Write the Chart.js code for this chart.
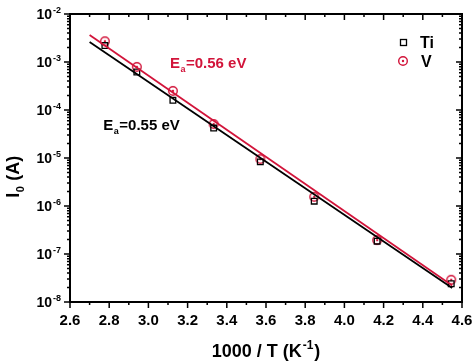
<!DOCTYPE html>
<html>
<head>
<meta charset="utf-8">
<script src="https://cdn.jsdelivr.net/npm/chart.js@4.4.0/dist/chart.umd.min.js"></script>
<style>
  html, body { margin: 0; padding: 0; background: #fff; }
</style>
</head>
<body>
<canvas id="c" width="474" height="362"></canvas>
<script>
// 1000/T values and measured I0 (A)
const invT = [2.778, 2.941, 3.125, 3.333, 3.571, 3.846, 4.167, 4.545];
const tiI0 = [2.2e-3, 6.2e-4, 1.6e-4, 4.2e-5, 8.3e-6, 1.26e-6, 1.85e-7, 2.4e-8];
const vI0  = [2.7e-3, 7.9e-4, 2.5e-4, 5.1e-5, 9.5e-6, 1.55e-6, 1.95e-7, 2.9e-8];

// Arrhenius fit lines
const fitX  = [2.70, 4.55];
const tiFit = [2.6e-3, 1.95e-8];
const vFit  = [3.65e-3, 2.2e-8];

const xTicks = [2.6, 2.8, 3.0, 3.2, 3.4, 3.6, 3.8, 4.0, 4.2, 4.4, 4.6];
const yExps  = [-2, -3, -4, -5, -6, -7, -8];

const RED = '#d2143a';
const FONT = '"Liberation Sans", Arial, sans-serif';

function pts(xs, ys) {
    return xs.map((x, i) => ({ x: x, y: ys[i] }));
}

// circle with a dot in the middle, for V
const circ = document.createElement('canvas');
circ.width = 12; circ.height = 12;
(function () {
    const g = circ.getContext('2d');
    g.strokeStyle = RED;
    g.lineWidth = 1.4;
    g.beginPath(); g.arc(6, 6, 4.3, 0, Math.PI * 2); g.stroke();
    g.fillStyle = RED;
    g.beginPath(); g.arc(6, 6, 1.2, 0, Math.PI * 2); g.fill();
})();

function textSup(ctx, base, sup, x, y, size, align) {
    ctx.font = 'bold ' + size + 'px ' + FONT;
    const wb = ctx.measureText(base).width;
    ctx.font = 'bold ' + Math.round(size * 0.65) + 'px ' + FONT;
    const ws = ctx.measureText(sup).width;
    let x0 = x;
    if (align === 'right') x0 = x - wb - ws - 1;
    ctx.textAlign = 'left';
    ctx.font = 'bold ' + size + 'px ' + FONT;
    ctx.fillText(base, x0, y);
    ctx.font = 'bold ' + Math.round(size * 0.65) + 'px ' + FONT;
    ctx.fillText(sup, x0 + wb + 1, y - size * 0.42);
}

function textSub(ctx, a, sub, b, x, y, size) {
    ctx.textAlign = 'left';
    ctx.font = 'bold ' + size + 'px ' + FONT;
    ctx.fillText(a, x, y);
    const wa = ctx.measureText(a).width;
    ctx.font = 'bold ' + Math.round(size * 0.6) + 'px ' + FONT;
    ctx.fillText(sub, x + wa + 0.5, y + size * 0.25);
    const ws = ctx.measureText(sub).width;
    ctx.font = 'bold ' + size + 'px ' + FONT;
    ctx.fillText(b, x + wa + ws + 1, y);
}

function xTitle(ctx) {
    const size = 18;
    ctx.font = 'bold ' + size + 'px ' + FONT;
    const w1 = ctx.measureText('1000 / T (K').width;
    ctx.font = 'bold 12px ' + FONT;
    const w2 = ctx.measureText('-1').width;
    ctx.font = 'bold ' + size + 'px ' + FONT;
    const w3 = ctx.measureText(')').width;
    const x0 = 266 - (w1 + w2 + w3 + 2) / 2, y = 357;
    ctx.textAlign = 'left';
    ctx.fillText('1000 / T (K', x0, y);
    ctx.font = 'bold 12px ' + FONT;
    ctx.fillText('-1', x0 + w1 + 1, y - 8);
    ctx.font = 'bold ' + size + 'px ' + FONT;
    ctx.fillText(')', x0 + w1 + w2 + 2, y);
}

const framePlugin = {
    id: 'frame',
    afterDraw(chart) {
        const ctx = chart.ctx;
        const a = chart.chartArea;
        const xs = chart.scales.x, ys = chart.scales.y;
        ctx.save();
        ctx.strokeStyle = '#000';
        ctx.fillStyle = '#000';
        ctx.lineWidth = 2;
        ctx.strokeRect(a.left, a.top, a.right - a.left, a.bottom - a.top);

        ctx.lineWidth = 1.5;
        ctx.beginPath();
        // x ticks, major and minor, mirrored on top
        xTicks.forEach((v, i) => {
            const px = xs.getPixelForValue(v);
            ctx.moveTo(px, a.bottom); ctx.lineTo(px, a.bottom + 6);
            ctx.moveTo(px, a.top); ctx.lineTo(px, a.top + 6);
            if (i < xTicks.length - 1) {
                const pm = xs.getPixelForValue(v + 0.1);
                ctx.moveTo(pm, a.bottom); ctx.lineTo(pm, a.bottom + 3);
                ctx.moveTo(pm, a.top); ctx.lineTo(pm, a.top + 3);
            }
        });
        // y ticks, decades plus 2..9 minors, mirrored on right
        yExps.forEach((e, i) => {
            const py = ys.getPixelForValue(Math.pow(10, e));
            ctx.moveTo(a.left - 6, py); ctx.lineTo(a.left + 1, py);
            ctx.moveTo(a.right, py); ctx.lineTo(a.right - 6, py);
            if (i < yExps.length - 1) {
                for (let k = 2; k <= 9; k++) {
                    const pm = ys.getPixelForValue(k * Math.pow(10, e - 1));
                    ctx.moveTo(a.left - 3, pm); ctx.lineTo(a.left, pm);
                    ctx.moveTo(a.right, pm); ctx.lineTo(a.right - 3, pm);
                }
            }
        });
        ctx.stroke();

        // tick labels
        ctx.textBaseline = 'alphabetic';
        ctx.font = 'bold 15px ' + FONT;
        ctx.textAlign = 'center';
        xTicks.forEach(v => {
            ctx.fillText(v.toFixed(1), xs.getPixelForValue(v), a.bottom + 23);
        });
        yExps.forEach(e => {
            const py = ys.getPixelForValue(Math.pow(10, e));
            textSup(ctx, '10', String(e), a.left - 9, py + 5, 14, 'right');
        });

        // axis titles
        xTitle(ctx);

        ctx.save();
        ctx.translate(19, 177);
        ctx.rotate(-Math.PI / 2);
        ctx.font = 'bold 18px ' + FONT;
        const w1 = ctx.measureText('I').width;
        ctx.font = 'bold 12px ' + FONT;
        const w2 = ctx.measureText('0').width;
        ctx.font = 'bold 18px ' + FONT;
        const w3 = ctx.measureText(' (A)').width;
        textSub(ctx, 'I', '0', ' (A)', -(w1 + w2 + w3) / 2, 0, 18);
        ctx.restore();

        // activation energies
        const rx = xs.getPixelForValue(3.11), ry = ys.getPixelForValue(Math.pow(10, -3.12));
        ctx.fillStyle = RED;
        textSub(ctx, 'E', 'a', '=0.56 eV', rx, ry, 15);
        const bx = xs.getPixelForValue(2.77), by = ys.getPixelForValue(Math.pow(10, -4.42));
        ctx.fillStyle = '#000';
        textSub(ctx, 'E', 'a', '=0.55 eV', bx, by, 15);

        // legend
        ctx.lineWidth = 1.3;
        ctx.strokeStyle = '#000';
        ctx.strokeRect(400.5, 39.5, 6, 6);
        ctx.drawImage(circ, 397, 55);
        ctx.fillStyle = '#000';
        ctx.font = 'bold 16px ' + FONT;
        ctx.textAlign = 'left';
        ctx.fillText('Ti', 420, 48);
        ctx.fillText('V', 421, 67);
        ctx.restore();
    }
};

new Chart(document.getElementById('c'), {
    type: 'scatter',
    data: {
        datasets: [
            {
                type: 'line',
                data: pts(fitX, tiFit),
                borderColor: '#000',
                borderWidth: 1.8,
                pointRadius: 0,
                fill: false
            },
            {
                type: 'line',
                data: pts(fitX, vFit),
                borderColor: RED,
                borderWidth: 1.8,
                pointRadius: 0,
                fill: false
            },
            {
                label: 'Ti',
                data: pts(invT, tiI0),
                pointStyle: 'rect',
                pointRadius: 4,
                borderColor: '#000',
                borderWidth: 1.3,
                backgroundColor: 'rgba(0,0,0,0)'
            },
            {
                label: 'V',
                data: pts(invT, vI0),
                pointStyle: circ,
                pointRadius: 5
            }
        ]
    },
    options: {
        responsive: false,
        animation: false,
        layout: { padding: { left: 70, right: 12, top: 14, bottom: 60 } },
        plugins: { legend: { display: false }, tooltip: { enabled: false } },
        scales: {
            x: { type: 'linear', min: 2.6, max: 4.6, display: false },
            y: { type: 'logarithmic', min: 1e-8, max: 1e-2, display: false }
        }
    },
    plugins: [framePlugin]
});
</script>
</body>
</html>
